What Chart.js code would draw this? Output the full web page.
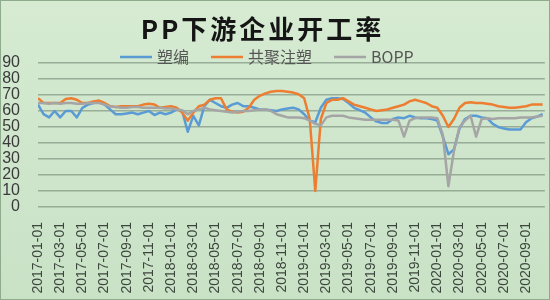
<!DOCTYPE html>
<html>
<head>
<meta charset="utf-8">
<script src="https://cdn.jsdelivr.net/npm/chart.js@4.4.0/dist/chart.umd.min.js"></script>
<style>
  html, body { margin: 0; padding: 0; background: #cfe6cc; }
</style>
</head>
<body>
<canvas id="myChart" width="550" height="300"></canvas>
<script>
const chartTitle = 'PP下游企业开工率';
const seriesNames = ['塑编', '共聚注塑', 'BOPP'];
const seriesColors = ['#5b9bd5', '#ed7d31', '#a5a5a5'];

// x labels, one every two months
const tickLabels = [
    '2017-01-01', '2017-03-01', '2017-05-01', '2017-07-01', '2017-09-01', '2017-11-01',
    '2018-01-01', '2018-03-01', '2018-05-01', '2018-07-01', '2018-09-01', '2018-11-01',
    '2019-01-01', '2019-03-01', '2019-05-01', '2019-07-01', '2019-09-01', '2019-11-01',
    '2020-01-01', '2020-03-01', '2020-05-01', '2020-07-01', '2020-09-01'
];

// values every half month from 2017-01
const suBian = [
    64, 58, 56, 60, 56, 60, 60, 56, 62, 64,
    65, 65.5, 64, 61, 58, 58, 58.5, 59, 58, 59,
    60, 57.5, 59, 58, 59, 61, 60, 47, 57, 51,
    63, 67, 65, 63, 62, 64, 65, 63, 63, 62,
    61, 61, 60.5, 60, 61, 61.5, 62, 61, 58, 54,
    53, 62, 67, 68, 68, 67.5, 65, 62, 60.5, 59,
    56, 53.5, 52.5, 52.5, 55, 56, 55.5, 57, 56, 55.5,
    55.5, 55, 54, 44, 33, 36, 49, 55, 57, 57,
    56, 55.5, 52, 50, 49, 48.5, 48.5, 48.5, 53, 55.5,
    56.5, 58
];

const gongJuZhuSu = [
    68, 65, 65, 65, 65, 67.5, 68, 67, 65, 65,
    66, 66.5, 65, 63, 62.5, 63, 63, 63, 63, 64,
    64.5, 64, 62, 62.5, 63, 62, 59, 54, 59, 63,
    64, 67, 68, 68, 61, 59.5, 59, 59.5, 62, 67,
    69.5, 71, 72, 72.5, 72.5, 72, 71.5, 70.5, 68, 55,
    10, 55, 65, 67, 67, 68, 66, 64, 63, 62,
    61, 60, 60.5, 61, 62, 63, 64, 66, 67, 66,
    65, 63, 62, 57, 50, 55, 62, 65, 65.5, 65,
    65, 64.5, 64, 63, 62.5, 62, 62, 62.5, 63, 64,
    64, 64
];

const bopp = [
    65, 65, 64.5, 65, 64.5, 65, 65, 64.5, 64.5, 65,
    65, 65, 64, 63, 62.5, 62, 62, 62.5, 62.5, 62,
    62, 62, 62, 61.5, 61.5, 61, 60.5, 58, 60, 61,
    62, 61, 60.5, 60, 59.5, 59, 59.5, 60, 60, 60.5,
    61, 61, 60, 58, 57, 56, 56, 56, 55.5, 54,
    52, 51, 56, 57, 57, 57, 56, 55.5, 55, 54.5,
    54.5, 54.5, 54.5, 54.5, 54.5, 54, 44, 54, 55.5, 56,
    56, 56, 55.5, 45, 13, 35, 50, 54, 57, 44,
    55, 55.5, 55, 55.5, 55.5, 55.5, 55.5, 56, 56, 56,
    56.5, 57
];

const yTicks = [0, 10, 20, 30, 40, 50, 60, 70, 80, 90];

function toPoints(arr) {
    return arr.map((v, i) => ({ x: i / 2, y: v }));
}

const bgPlugin = {
    id: 'bg',
    beforeDraw(chart) {
        const c = chart.ctx;
        const g = c.createLinearGradient(0, 0, 0, chart.height);
        g.addColorStop(0, '#d6ebd2');
        g.addColorStop(0.5, '#cfe6cc');
        g.addColorStop(1, '#c9e2c6');
        c.save();
        c.fillStyle = g;
        c.fillRect(0, 0, chart.width, chart.height);
        c.strokeStyle = '#8eab8b';
        c.lineWidth = 1;
        c.strokeRect(0.5, 0.5, chart.width - 1, chart.height - 1);
        c.restore();
    }
};

// title + legend drawn by hand so they sit where the original has them
const headerPlugin = {
    id: 'header',
    afterDraw(chart) {
        const c = chart.ctx;
        c.save();
        const sp = 3;
        c.font = 'bold 26px "Noto Sans CJK SC"';
        c.letterSpacing = sp + 'px';
        c.fillStyle = '#151515';
        c.textAlign = 'left';
        c.textBaseline = 'middle';
        const w = c.measureText(chartTitle).width - sp;
        c.fillText(chartTitle, 261 - w / 2, 29);

        c.letterSpacing = '0px';
        c.font = '16px "Noto Sans CJK SC"';
        c.fillStyle = '#555555';
        let x = 120;
        const y = 57;
        chart.data.datasets.forEach(ds => {
            c.strokeStyle = ds.borderColor;
            c.lineWidth = 2.5;
            c.beginPath();
            c.moveTo(x, y);
            c.lineTo(x + 32, y);
            c.stroke();
            c.fillText(ds.label, x + 37, y);
            x += 37 + c.measureText(ds.label).width + 22;
        });
        c.restore();
    }
};

const ctx = document.getElementById('myChart');
new Chart(ctx, {
    type: 'line',
    data: {
        datasets: [
            {
                label: seriesNames[0],
                data: toPoints(suBian),
                borderColor: seriesColors[0],
                order: 2
            },
            {
                label: seriesNames[1],
                data: toPoints(gongJuZhuSu),
                borderColor: seriesColors[1],
                order: 1
            },
            {
                label: seriesNames[2],
                data: toPoints(bopp),
                borderColor: seriesColors[2],
                order: 0
            }
        ]
    },
    options: {
        responsive: false,
        animation: false,
        devicePixelRatio: 1,
        layout: {
            padding: { top: 63, right: 5, left: 0, bottom: 0 }
        },
        elements: {
            point: { radius: 0 },
            line: { borderWidth: 2.5, tension: 0, borderJoinStyle: 'round', fill: false }
        },
        plugins: {
            legend: { display: false },
            title: { display: false },
            tooltip: { enabled: false }
        },
        scales: {
            x: {
                type: 'linear',
                min: 0,
                max: 45.7,
                afterBuildTicks: scale => {
                    scale.ticks = tickLabels.map((_, i) => ({ value: i * 2 }));
                },
                afterFit: scale => { scale.height = 93; },
                ticks: {
                    autoSkip: false,
                    minRotation: 90,
                    maxRotation: 90,
                    padding: 7,
                    color: '#3d463d',
                    font: { family: 'Liberation Sans', size: 14 },
                    callback: value => tickLabels[Math.round(value / 2)]
                },
                grid: { display: false },
                border: { display: false }
            },
            y: {
                min: 0,
                max: 90,
                afterBuildTicks: scale => {
                    scale.ticks = yTicks.map(v => ({ value: v }));
                },
                afterFit: scale => { scale.width = 38; },
                ticks: {
                    autoSkip: false,
                    padding: 18,
                    color: '#3a3a3a',
                    font: { family: 'Liberation Sans', size: 16, lineHeight: 1 }
                },
                grid: { color: 'rgba(115, 135, 115, 0.6)', lineWidth: 1.5, drawTicks: false },
                border: { display: false }
            }
        }
    },
    plugins: [bgPlugin, headerPlugin]
});
</script>
</body>
</html>
